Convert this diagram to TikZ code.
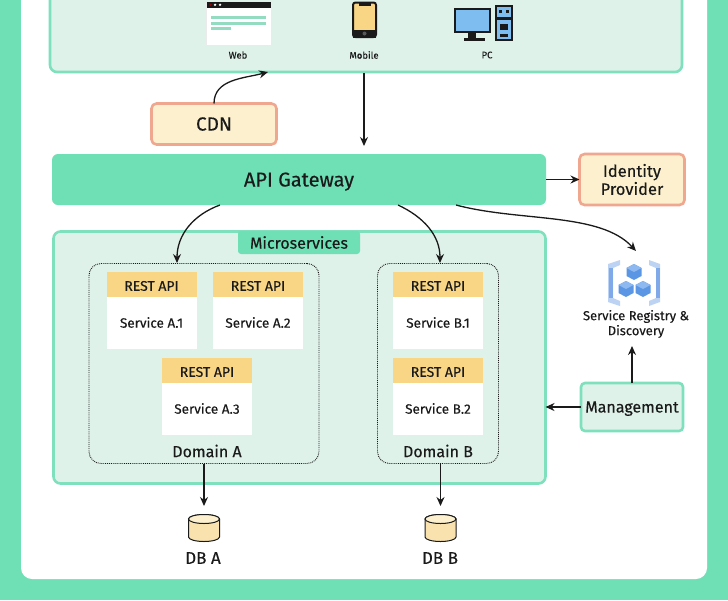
\documentclass[tikz,border=0pt]{standalone}
\usepackage{fontspec}
\setmainfont{Fira Sans}[FakeBold=0.25]
\usetikzlibrary{arrows.meta,positioning}
\definecolor{mint}{HTML}{6FDFB6}
\definecolor{mintline}{HTML}{7FE0BE}
\definecolor{pale}{HTML}{DFF2EA}
\definecolor{cream}{HTML}{FCF0CE}
\definecolor{salmon}{HTML}{F0A78F}
\definecolor{amber}{HTML}{F9D685}
\definecolor{ink}{HTML}{1A1A1A}
\definecolor{skyb}{HTML}{7DBDF0}
\definecolor{gbl}{HTML}{5A96E4}
\definecolor{gbll}{HTML}{BCD3F3}
\definecolor{gblm}{HTML}{7FA9E8}
\definecolor{gblt}{HTML}{8DB9F0}
\definecolor{webline}{HTML}{93DCC2}
\definecolor{dbbody}{HTML}{F9E2AE}
\tikzset{
 x=1pt,y=-1pt,
 every node/.style={text=ink,inner sep=0pt,outer sep=0pt},
 conn/.style={draw=ink,line width=1.3pt,-{Stealth[length=9pt,width=8pt]}},
 panel/.style={draw=mintline,line width=2.6pt,fill=pale,rounded corners=7pt},
 salmonbox/.style={draw=salmon,line width=2.6pt,fill=cream,rounded corners=5pt,align=center},
 gate/.style={fill=mint,rounded corners=6pt},
 dombox/.style={draw=ink,line width=.9pt,densely dotted,rounded corners=12pt},
 restcap/.style={fill=amber,minimum width=90pt,minimum height=25pt,text height=12.6pt,text depth=0pt,font=\fontsize{14}{14}\selectfont},
 svcbody/.style={fill=white,minimum width=90pt,minimum height=52pt,font=\fontsize{13.5}{14}\selectfont},
 lab/.style={font=\fontsize{9.5}{10}\selectfont},
 big/.style={font=\fontsize{19}{20}\selectfont},
 mid/.style={font=\fontsize{16}{16}\selectfont},
 cyl/.style={draw=ink,line width=1pt,fill=dbbody},
}
\newcommand{\svc}[4]{% name, cx, top y, text
 \node[svcbody] (#1b) at (#2,#3+50.5) {#4};
 \node[restcap] (#1r) at (#2,#3+12.5) {REST API};
}
\newcommand{\dbcyl}[1]{% cx
 \draw[cyl] (#1-15.5,519) -- (#1-15.5,537) arc[start angle=180,end angle=360,x radius=15.5pt,y radius=4.5pt] -- (#1+15.5,519) arc[start angle=0,end angle=180,x radius=15.5pt,y radius=4.5pt] -- cycle;
 \draw[cyl,fill=cream] (#1,519) ellipse[x radius=15.5pt,y radius=4.5pt];
}
\begin{document}
\begin{tikzpicture}
\useasboundingbox (0,0) rectangle (728,600);
\fill[mint] (0,0) rectangle (728,600);
\begin{scope}
\clip (0,0) rectangle (728,600);
\fill[white,rounded corners=11pt] (21,-20) rectangle (707,579);
\draw[panel] (50,-20) rectangle (682,72);
\end{scope}
\coordinate (clientnorth) at (364,73);
\coordinate (gwin) at (364,146);
% Web icon
\fill[black!8] (206,2) rectangle (272,46);
\fill[white] (207,1.5) rectangle (271,45);
\fill[ink] (207,1.5) rectangle (271,8);
\foreach \x/\c in {210.5/red!60!black,215/white,220/white}{\fill[\c] (\x,4.8) circle[radius=1.3pt];}
\fill[webline] (211,15.5) rectangle (266,18.5);
\fill[webline] (211,21.5) rectangle (266,24.5);
\fill[webline] (211,27) rectangle (231,30);
\node[lab] (web) at (238,55) {Web};
% Mobile icon
\draw[ink,line width=2pt,fill=amber,rounded corners=2.5pt] (353,2.5) rectangle (376,37);
\fill[ink] (358.5,2) rectangle (370.5,5.5);
\fill[ink] (353,30) rectangle (376,37.5);
\fill[gray!70!black] (364.5,33.5) circle[radius=2pt];
\node[lab] (mobile) at (364,55) {Mobile};
% PC icon
\draw[ink,line width=2pt,fill=skyb] (454.5,8.5) rectangle (489.5,32);
\fill[ink] (468,33) rectangle (476,38);
\fill[ink] (464,38) rectangle (485,41);
\draw[ink,line width=2pt,fill=skyb] (496,5.5) rectangle (512,40);
\fill[ink] (496,17) rectangle (512,20);
\fill[ink] (499,9.5) rectangle (502,13);\fill[ink] (506,9.5) rectangle (509,13);
\fill[ink] (500,24) rectangle (508,30);
\fill[ink] (500,34) rectangle (508,36.5);
\node[lab] (pc) at (487,55) {PC};
% CDN
\node[salmonbox,big,minimum width=125pt,minimum height=41pt] (cdn) at (214,124) {CDN};
\coordinate (cdnto) at (268,72);
\draw[conn] (cdn.north) to[out=90,in=195] (cdnto);
% gateway
\node[gate,font=\fontsize{20}{20}\selectfont,minimum width=494pt,minimum height=51pt,text height=14pt,text depth=0pt] (gw) at (299,179.5) {API Gateway};
\draw[conn] (clientnorth) -- (gwin);
% identity
\node[salmonbox,font=\fontsize{16.5}{18}\selectfont,minimum width=105pt,minimum height=51pt] (idp) at (632,179.5) {Identity\\Provider};
\draw[conn] (gw.east) -- (idp.west);
% microservices
\node[panel,minimum width=492pt,minimum height=252pt] (ms) at (299.5,357.5) {};
\node[fill=mint,mid,minimum width=122pt,minimum height=23pt,rounded corners=3pt] (mslab) at (299,242.5) {Microservices};
% domains
\node[dombox,minimum width=230pt,minimum height=200pt] (da) at (204,363.5) {};
\node[dombox,minimum width=121pt,minimum height=200pt] (db) at (438,363.5) {};
\node[mid] (dal) at (207,451) {Domain A};
\node[mid] (dbl) at (438,451) {Domain B};
\svc{a1}{151.5}{272}{Service A.1}
\svc{a2}{258}{272}{Service A.2}
\svc{a3}{207}{358}{Service A.3}
\svc{b1}{438}{272}{Service B.1}
\svc{b2}{438}{358}{Service B.2}
\coordinate (gwa) at (220,205);
\coordinate (gwb) at (398,205);
\coordinate (gwr) at (456,205);
\coordinate (daa) at (177,263);
\coordinate (dba) at (440,263);
\draw[conn] (gwa) to[out=200,in=90] (daa);
\draw[conn] (gwb) to[out=-25,in=90] (dba);
% registry
\coordinate (regto) at (636,251);
\draw[conn] (gwr) .. controls (520,222) and (600,212) .. (regto);
% registry icon
\fill[gbll] (608,264) -- (620,260) -- (620,265) -- (613,268) -- (613,298) -- (620,301) -- (620,306) -- (608,302) -- cycle;
\fill[gblm] (608.5,268) -- (613,268) -- (613,298) -- (608.5,298) -- cycle;
\fill[gbll] (660,264) -- (649,260) -- (649,265) -- (656,268) -- (656,298) -- (649,301) -- (649,306) -- (660,302) -- cycle;
\fill[gblm] (660,268) -- (656,268) -- (656,298) -- (660,298) -- cycle;
\foreach \cx/\cy in {634/272,626/289,643/289}{
 \fill[gbl] (\cx,\cy-8) -- (\cx+7.5,\cy-4) -- (\cx+7.5,\cy+4) -- (\cx,\cy+8) -- (\cx-7.5,\cy+4) -- (\cx-7.5,\cy-4) -- cycle;
 \fill[gblt] (\cx,\cy-8) -- (\cx+7.5,\cy-4) -- (\cx,\cy) -- (\cx-7.5,\cy-4) -- cycle;
}
\node[font=\fontsize{13}{15}\selectfont,align=center] (reg) at (636,324) {Service Registry \&\\Discovery};
% management
\node[panel,rounded corners=4pt,mid,minimum width=102pt,minimum height=48pt,text height=11pt,text depth=0pt] (mg) at (632,407) {Management};
\coordinate (regin) at (632,346);
\draw[conn] (mg.north) -- (regin);
\draw[conn] (mg.west) -- (ms.east |- mg.west);
% DBs
\dbcyl{204}
\dbcyl{440.5}
\coordinate (dbato) at (204,506);
\coordinate (dbbto) at (440.5,506);
\draw[conn] (da.south -| dbato) -- (dbato);
\draw[conn] (db.south -| dbbto) -- (dbbto);
\node[font=\fontsize{17}{17}\selectfont] (dbal) at (203,558) {DB A};
\node[font=\fontsize{17}{17}\selectfont] (dbbl) at (440,558) {DB B};
\end{tikzpicture}
\end{document}
